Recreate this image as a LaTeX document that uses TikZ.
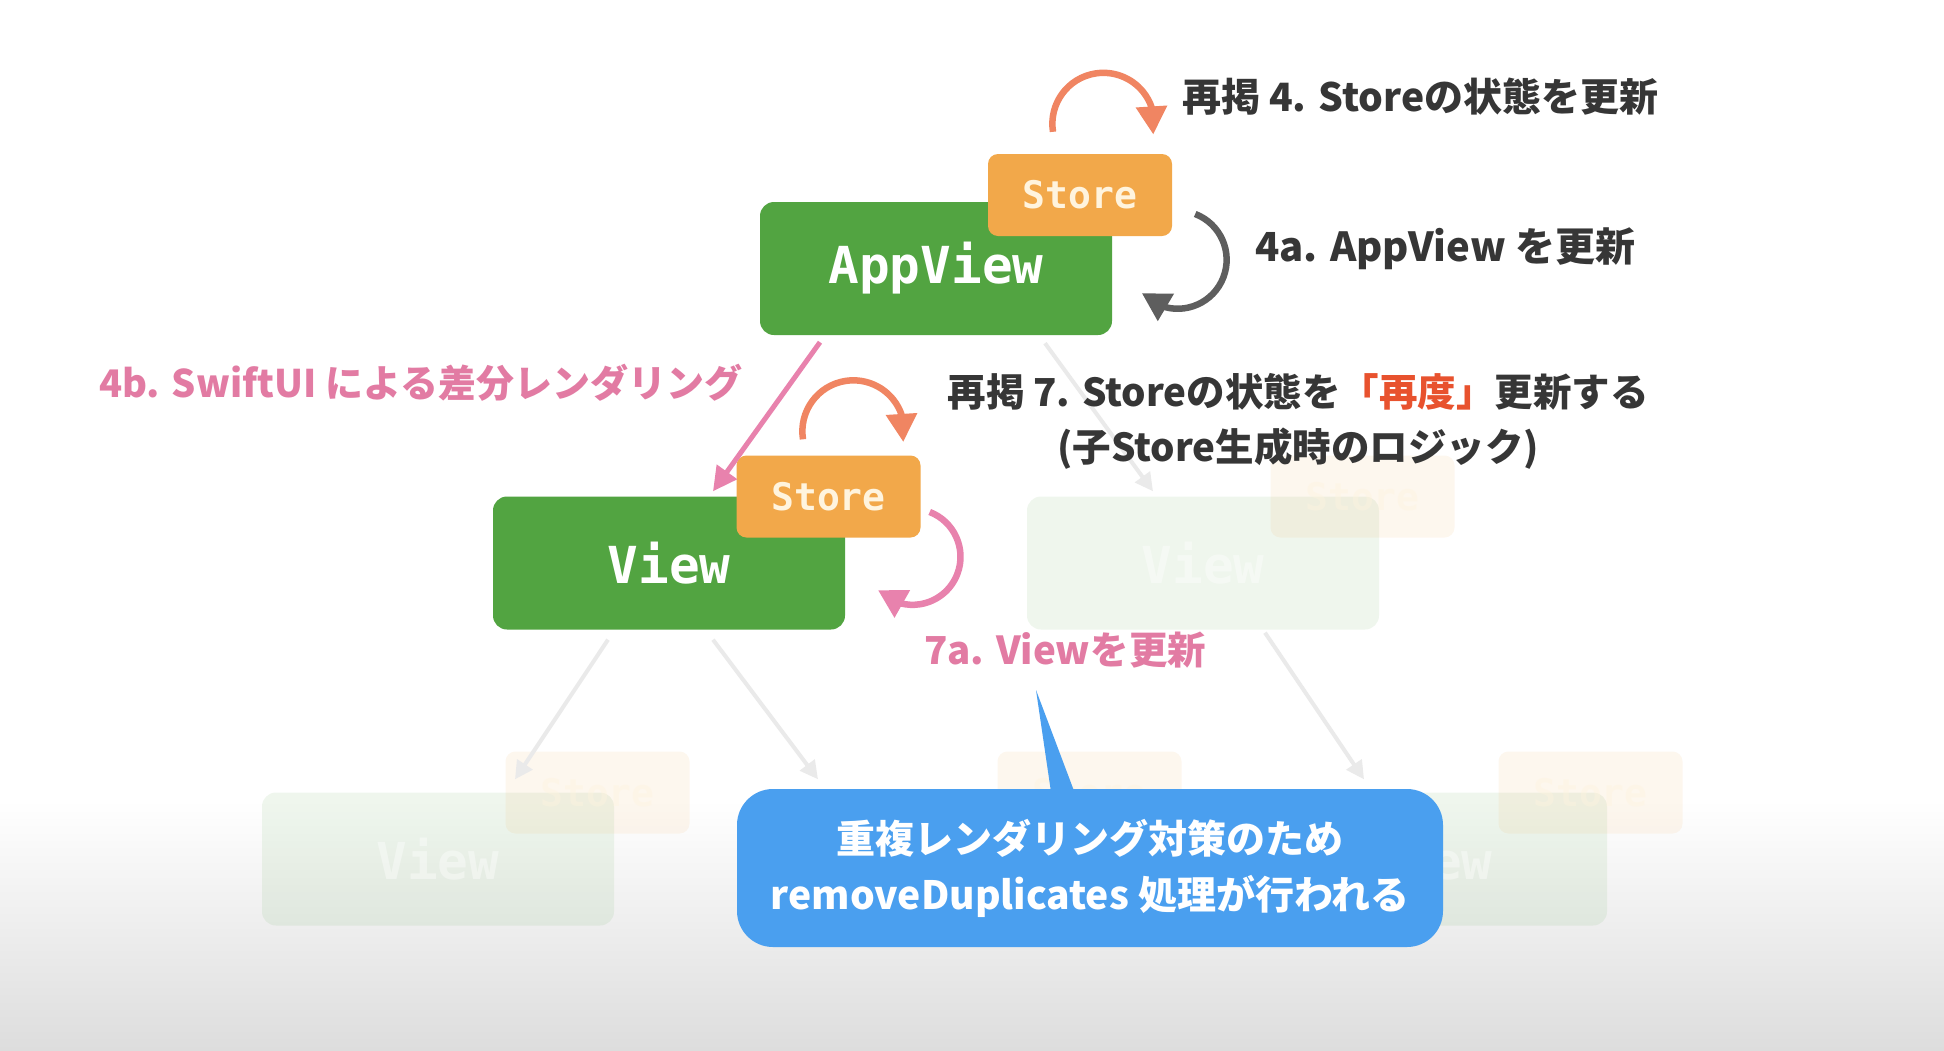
\documentclass[tikz,border=0pt]{standalone}
\usepackage{fontspec}
\newfontfamily\jp{Noto Sans CJK JP}
\newfontfamily\mono{DejaVu Sans Mono}
\usetikzlibrary{arrows.meta,bending}
\definecolor{cgreen}{HTML}{52A441}
\definecolor{corange}{HTML}{F2A84A}
\definecolor{carc}{HTML}{F08562}
\definecolor{cgrey}{HTML}{5E5E5E}
\definecolor{cpink}{HTML}{E882AD}
\definecolor{cpinktext}{HTML}{E27BA3}
\definecolor{cdark}{HTML}{363636}
\definecolor{cred}{HTML}{E8522E}
\definecolor{cblue}{HTML}{4A9FEF}
\definecolor{ccream}{HTML}{FFF4DE}
\definecolor{cfaint}{HTML}{EAEAEA}
\definecolor{cbottom}{HTML}{DDDDDD}
\tikzset{
  viewbox/.style={fill=cgreen, rounded corners=14pt, minimum width=352pt, minimum height=133pt, inner sep=0pt, text=white, font=\mono\bfseries\fontsize{51}{60}\selectfont},
  storebox/.style={fill=corange, rounded corners=10pt, minimum width=184pt, minimum height=82pt, inner sep=0pt, text=ccream, font=\mono\bfseries\fontsize{38}{44}\selectfont},
  faded/.style={fill opacity=0.09, text opacity=0.4},
  txt/.style={font=\jp\bfseries\fontsize{38.5}{55}\selectfont, text=cdark, inner sep=0pt, anchor=west},
  arcarrow/.style={line width=6.5pt, -{Triangle[length=28pt,width=30pt]}},
  fadearrow/.style={draw=cfaint, line width=4pt, -{Triangle[length=18pt,width=18pt]}},
}
\begin{document}
\begin{tikzpicture}[x=1pt,y=-1pt]
\useasboundingbox (0,0) rectangle (1944,1050);
\fill[white] (0,0) rectangle (1944,1050);
\shade[top color=white, bottom color=cbottom] (0,800) rectangle (1944,1050);

% faded background nodes
\node[viewbox, faded] (fview) at (1203,563) {View};
\node[storebox, faded] (fstore) at (1362.5,496.5) {Store};
\node[viewbox, faded] (blview) at (438,859) {View};
\node[storebox, faded] (blstore) at (597.5,792.5) {Store};
\node[viewbox, faded] (bmview) at (930,859) {};
\node[storebox, faded] (bmstore) at (1089.5,792.5) {Store};
\node[viewbox, faded] (brview) at (1431,859) {View};
\node[storebox, faded] (brstore) at (1590.5,792.5) {Store};

% main nodes
\node[viewbox] (appview) at (936,268.5) {AppView};
\node[storebox] (store1) at (1080,195) {Store};
\node[viewbox] (view) at (669,563) {View};
\node[storebox] (store2) at (828.5,496.5) {Store};

% faded arrows
\draw[fadearrow] ([xshift=109pt,yshift=-8pt]appview.south) -- ([xshift=-50pt,yshift=5pt]fview.north);
\draw[fadearrow] ([xshift=-61pt,yshift=-10pt]view.south) -- ([xshift=77pt,yshift=13pt]blview.north);
\draw[fadearrow] ([xshift=44pt,yshift=-10pt]view.south) -- ([xshift=-112pt,yshift=13pt]bmview.north);
\draw[fadearrow] ([xshift=62pt,yshift=-3pt]fview.south) -- ([xshift=-67pt,yshift=13pt]brview.north);

% main arrows
\draw[cpink, line width=5pt, -{Triangle[length=24pt,width=24pt]}] ([xshift=-116pt,yshift=-7pt]appview.south) -- ([xshift=44pt,yshift=5pt]view.north);
\draw[arcarrow, carc] ([xshift=-27pt,yshift=22pt]store1.north) arc[start angle=171, end angle=372, radius=51];
\draw[arcarrow, cgrey] ([xshift=23pt,yshift=-19pt]store1.east) arc[start angle=-69, end angle=137, radius=49];
\draw[arcarrow, carc] ([xshift=-25.5pt,yshift=16pt]store2.north) arc[start angle=171, end angle=372, radius=51];
\draw[arcarrow, cpink] ([xshift=9pt,yshift=-15.5pt]store2.east) arc[start angle=-69, end angle=136, radius=48];

% labels
\node[txt, font=\jp\bfseries\fontsize{39}{55}\selectfont] (t4) at (1182,97) {再掲 4. Storeの状態を更新};
\node[txt, font=\jp\bfseries\fontsize{40}{55}\selectfont] (t4a) at (1255,249) {4a. AppView を更新};
\node[txt, text=cpinktext, font=\jp\bfseries\fontsize{38}{55}\selectfont] (t4b) at (99,383) {4b. SwiftUI による差分レンダリング};
\node[txt, anchor=center, align=center] (t7) at (1298,421) {再掲 7. Storeの状態を{\color{cred}「再度」}更新する\\(子Store生成時のロジック)};
\node[txt, text=cpinktext] (t7a) at (924,650) {7a. Viewを更新};

% callout
\node[fill=cblue, rounded corners=36pt, minimum width=706pt, minimum height=158pt, inner sep=0pt, text=white, align=center, font=\jp\bfseries\fontsize{39}{56}\selectfont] (callout) at (1090,868) {重複レンダリング対策のため\\removeDuplicates 処理が行われる};
\coordinate (ptip) at (1036,690);
\fill[cblue] (ptip) -- ([xshift=-38pt,yshift=-10pt]callout.north) -- ([xshift=-13pt,yshift=-10pt]callout.north) -- cycle;
\end{tikzpicture}
\end{document}
